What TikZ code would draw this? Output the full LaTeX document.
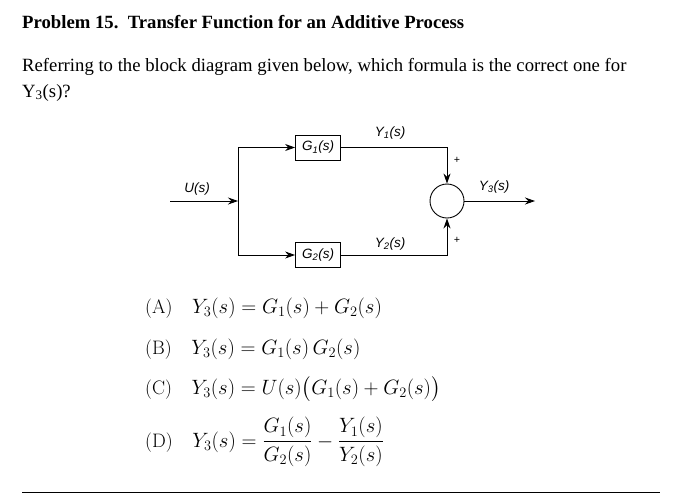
\documentclass[tikz,border=0pt]{standalone}
\usepackage{fontspec}
\usepackage{amsmath}
\setmainfont{Liberation Serif}
\newfontfamily\dsans{Liberation Sans}
\newfontfamily\lmr{Latin Modern Roman}
\usetikzlibrary{arrows.meta}
\tikzset{
  blk/.style={draw,line width=0.8pt,minimum width=45pt,minimum height=25pt,inner sep=0pt,font=\dsans\itshape\fontsize{13.5}{15}\selectfont},
  sig/.style={font=\dsans\itshape\fontsize{13.5}{15}\selectfont},
  wire/.style={line width=0.9pt},
  arr/.style={wire,-{Stealth[length=10pt,width=7pt]}},
  txt/.style={anchor=base west,inner sep=0pt,font=\fontsize{18.7}{22}\selectfont},
  opt/.style={anchor=base west,inner sep=0pt,font=\lmr\fontsize{19.5}{23}\selectfont}
}
\begin{document}
\begin{tikzpicture}[x=1pt,y=-1pt]
\useasboundingbox[fill=white] (0,0) rectangle (676,498);
\node[txt,font=\bfseries\fontsize{18.7}{22}\selectfont] (title) at (22,28) {Problem 15.\ \ Transfer Function for an Additive Process};
\node[txt] (l1) at (22,71) {Referring to the block diagram given below, which formula is the correct one for};
\node[txt] (l2) at (22,97) {Y\textsubscript{3}(s)?};
% diagram
\coordinate (u0) at (170,201);
\coordinate (j) at (238,201);
\node[blk] (g1) at (318,147.5) {G\textsubscript{1}(s)};
\node[blk] (g2) at (318,255) {G\textsubscript{2}(s)};
\node[draw,circle,line width=0.9pt,minimum size=34pt,inner sep=0pt] (sum) at (447,201) {};
\coordinate (out) at (535,201);
\draw[arr] (u0) -- (j) node[sig,pos=0.4,above=2pt] (ul) {U(s)};
\draw[arr] (j) |- (g1.west);
\draw[arr] (j) |- (g2.west);
\draw[arr] (g1.east) -| (sum.north);
\draw[arr] (g2.east) -| (sum.south);
\draw[arr] (sum.east) -- (out);
\node[sig] (y1) at (390,133) {Y\textsubscript{1}(s)};
\node[sig] (y2) at (390,244) {Y\textsubscript{2}(s)};
\node[sig] (y3) at (494,187) {Y\textsubscript{3}(s)};
\node[font=\bfseries\fontsize{11}{11}\selectfont] (p1) at (457,160) {+};
\node[font=\bfseries\fontsize{11}{11}\selectfont] (p2) at (457,240) {+};
% options
\node[opt] (a) at (145,313) {(A)\quad$Y_3(s)=G_1(s)+G_2(s)$};
\node[opt] (b) at (145,354) {(B)\quad$Y_3(s)=G_1(s)\,G_2(s)$};
\node[opt] (c) at (145,394) {(C)\quad$Y_3(s)=U(s)\bigl(G_1(s)+G_2(s)\bigr)$};
\node[opt] (d) at (145,447) {(D)\quad$Y_3(s)=\dfrac{G_1(s)}{G_2(s)}-\dfrac{Y_1(s)}{Y_2(s)}$};
\draw[line width=0.6pt] (22,492) -- (660,492);
\end{tikzpicture}
\end{document}
